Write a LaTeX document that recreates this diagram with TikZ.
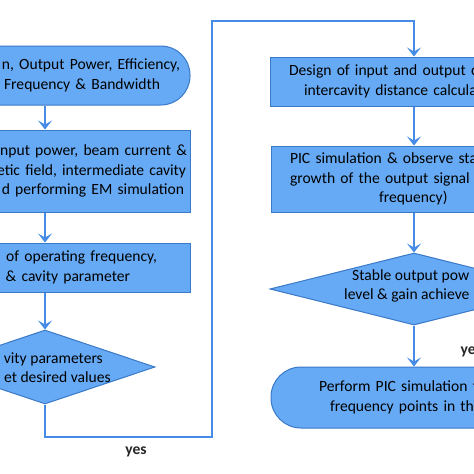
\documentclass[tikz,border=0pt]{standalone}
\usepackage{fontspec}
\setmainfont{Carlito}
\usetikzlibrary{shapes.geometric,arrows.meta}
\definecolor{boxfill}{HTML}{66AAF5}
\definecolor{boxdraw}{HTML}{3A78C8}
\definecolor{flow}{HTML}{468CE6}

\begin{document}
\begin{tikzpicture}[x=1pt,y=-1pt,
  font=\fontsize{15.6}{19.5}\selectfont,
  box/.style={draw=boxdraw,fill=boxfill,line width=1pt,inner ysep=2pt},
  term/.style={box,rounded corners=29pt},
  dia/.style={draw=boxdraw,fill=boxfill,line width=1pt,diamond,inner sep=0pt},
  txt/.style={inner sep=0pt},
  lbl/.style={font=\fontsize{15.6}{19.5}\selectfont\bfseries,text=black!85},
  flowto/.style={draw=flow,line width=1.6pt,-{Stealth[length=9pt,width=14pt,inset=4pt]}}]
  \clip (0,0) rectangle (474,474);
  % left column
  \node[term,align=right,text width=270pt,inner xsep=10pt,minimum height=59pt] (start) at (45,75.5)
    {n, Output Power, Efficiency,\\ Frequency \& Bandwidth\kern20pt};
  \node[box,align=right,text width=284pt,inner xsep=3pt,minimum height=82pt] (prm) at (45,171)
    {nput power, beam current \&\\ etic field, intermediate cavity\kern1pt\\ d performing EM simulation\kern3pt};
  \node[box,align=right,text width=224pt,inner xsep=33pt,minimum height=49pt] (frq) at (45,267.5)
    {of operating frequency,\\ \& cavity parameter\kern27pt};
  \node[dia,minimum width=220pt,minimum height=74pt] (chk1) at (45,367) {};
  \node[txt,align=right,anchor=east] (chk1txt) at (111,367.5)
    {vity parameters\kern8pt\\ et desired values};
  % right column
  \node[box,align=left,text width=250pt,inner xsep=19pt,minimum height=49pt] (cpl) at (414,81.5)
    {Design of input and output c\\ \hspace*{15pt}intercavity distance calcula};
  \node[box,align=left,text width=248pt,inner xsep=19pt,minimum height=66pt] (pic) at (414,179)
    {PIC simulation \& observe sta\\ growth of the output signal (\\ \hspace*{89pt}frequency)};
  \node[dia,minimum width=288pt,minimum height=72pt] (chk2) at (414,289) {};
  \node[txt,align=left,anchor=west] (chk2txt) at (344,286)
    {\hspace*{8pt}Stable output pow\\ level \& gain achieve};
  \node[term,rounded corners=30pt,align=left,text width=190pt,inner xsep=48pt,minimum height=61pt] (sweep) at (414,397.5)
    {Perform PIC simulation f\\ \hspace*{11pt}frequency points in th};
  % connectors
  \coordinate (c1) at (45,437);
  \coordinate (c2) at (212,437);
  \coordinate (c3) at (212,21);
  \coordinate (c4) at (414,21);
  \draw[flowto] (start) -- (prm);
  \draw[flowto] (prm) -- (frq);
  \draw[flowto] (frq) -- (chk1);
  \draw[flowto] (chk1.south) -- (c1) -- (c2) -- (c3) -- (c4) -- (cpl);
  \draw[flowto] (cpl) -- (pic);
  \draw[flowto] (pic) -- (chk2);
  \draw[flowto] (chk2) -- (sweep);
  \node[lbl] (yes1) at (136,452) {yes};
  \node[lbl,anchor=west] (yes2) at (457,352) {yes};
\end{tikzpicture}
\end{document}
